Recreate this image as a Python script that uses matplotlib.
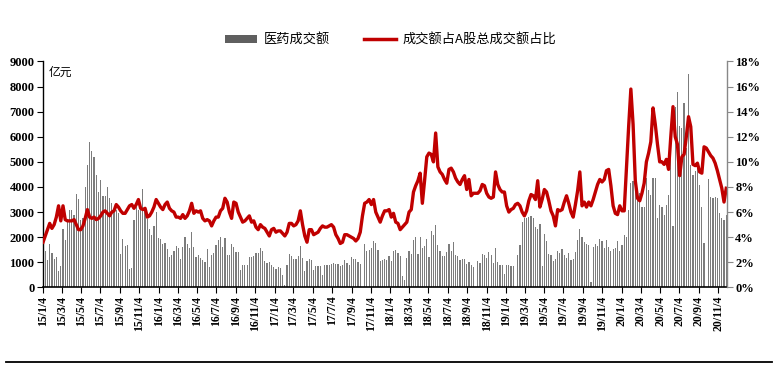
import numpy as np
import pandas as pd
import matplotlib
matplotlib.use('Agg')
import matplotlib.pyplot as plt
import matplotlib.dates as mdates
from matplotlib.ticker import PercentFormatter, FixedLocator, MultipleLocator
from matplotlib.lines import Line2D
from matplotlib.patches import Patch

nan = np.nan

# weekly observations starting 2015-01-04
weeks = pd.date_range('2015-01-04', periods=309, freq='7D')

# 医药成交额 (亿元)
amount_2015 = [1700, 1470, 1080, 1740, 1370, 1140, 1210, 640, 850, 2340,
               1870, 2710, 3100, 3100, 2890, 3730, 3530, 2670, 2770, 3990,
               4860, 5780, 5450, 5190, 4480, 3790, 4260, 3660, 3660, 3990,
               3560, 3370, 3000, 3100, 2960, 1340, 1940, 1650, 1670, 740,
               780, 2670, 3200, 3100, 3070, 3930, 3070, 2730, 2340, 2070,
               2440, 3000]
amount_2016 = [1960, 1910, 1710, 1780, 1510, 1210, 1300, 1470, 1650, 1570,
               1140, 1610, 2000, 1740, 1570, 2200, 1610, 1210, 1300, 1170,
               1080, 1010, 1510, 810, 1300, 1380, 1670, 1870, 2000, 1610,
               1980, 1310, 1310, 1740, 1610, 1430, 1410, 680, 910, 880,
               900, 1210, 1230, 1270, 1380, 1380, 1570, 1470, 1040, 980,
               1010, 880]
amount_2017 = [810, 740, 810, 770, 500, 80, 880, 1340, 1250, 1140,
               1120, 1270, 1630, 1170, 640, 1040, 1120, 1080, 680, 850,
               850, 850, 500, 910, 910, 910, 950, 980, 950, 950,
               860, 880, 1080, 980, 910, 1210, 1120, 1120, 1010, 950,
               nan, 1730, 1450, 1490, 1580, 1840, 1750, 1490, 1050, 1090,
               1130, 1090, 1260]
amount_2018 = [1050, 1460, 1490, 1390, 1260, 470, 290, 1160, 1450, 1350,
               1880, 2020, 1350, 2020, 1580, 1660, 1920, 1220, 2230, 2100,
               2480, 1670, 1470, 1270, 1270, 1430, 1740, 1470, 1810, 1300,
               1250, 1080, 1120, 1140, 940, 1010, 900, 810, nan, 1040,
               980, 1340, 1300, 1170, 1430, 1300, 980, 1570, 1010, 880,
               880, 540]
amount_2019 = [880, 900, 850, 850, nan, 1300, 1670, 2600, 2760, 2760,
               2800, 2840, 2760, 2400, 2340, 2540, 850, 2140, 1830, 1340,
               1300, 1040, 1120, 1470, 1380, 1540, 1300, 1170, 1380, 1080,
               1120, 1410, 1900, 2340, 2000, 1810, 1740, 1700, 210, 1610,
               1740, 1650, 1910, 1830, 1570, 1900, 1610, 1470, 1510, 1570,
               1830, 1470]
amount_2020 = [1700, 2100, 2000, 3100, 4150, 4220, 4290, 3620, 3780, 3220,
               3220, 4350, 3890, 3690, 4350, 4350, 2760, 3290, 3220, 2890,
               3290, 3690, 5410, 2430, 7200, 7800, 6410, 6340, 7340, 5550,
               8500, 4880, 4490, 4620, 4750, 4090, 3220, 1770, nan, 4300,
               3620, 3560, 3620, 3560, 2960, 2760, 2700, 2900]

# 成交额占A股总成交额占比 (%)
share_2015 = [3.6, 4.1, 4.6, 5.1, 4.7, 5.0, 5.6, 6.5, 5.3, 6.5,
              5.4, 5.3, 5.3, 5.3, 5.4, 5.0, 4.6, 4.6, 4.9, 5.5,
              6.2, 5.6, 5.5, 5.6, 5.4, 5.5, 5.7, 6.0, 6.1, 5.9,
              5.7, 6.0, 6.1, 6.6, 6.4, 6.1, 5.9, 5.9, 6.2, 6.5,
              6.6, 6.3, 6.6, 7.0, 6.3, 6.2, 6.3, 5.6, 5.7, 6.0,
              6.4, 7.0]
share_2016 = [6.7, 6.4, 6.2, 6.6, 6.8, 6.3, 6.1, 6.0, 5.6, 5.6,
              5.5, 5.8, 5.5, 5.7, 6.1, 6.7, 5.9, 6.1, 6.0, 6.1,
              5.5, 5.3, 5.4, 5.3, 4.9, 5.3, 5.6, 5.6, 6.1, 6.3,
              7.1, 6.8, 6.0, 5.5, 6.8, 6.7, 6.0, 5.6, 5.2, 5.3,
              5.5, 5.7, 5.2, 5.3, 4.8, 4.6, 5.0, 4.8, 4.7, 4.4,
              4.1, 4.6]
share_2017 = [4.7, 4.4, 4.5, 4.5, 4.3, 4.1, 4.4, 5.1, 5.1, 4.9,
              5.0, 5.3, 6.1, 5.0, 4.1, 3.6, 4.6, 4.6, 4.2, 4.3,
              4.4, 4.7, 4.9, 4.8, 4.8, 4.9, 5.0, 4.8, 4.2, 3.9,
              3.5, 3.6, 4.2, 4.2, 4.1, 4.0, 3.9, 3.7, 3.9, 4.4,
              5.7, 6.7, 6.8, 7.0, 6.6, 7.0, 6.0, 5.6, 5.2, 5.7,
              6.1, 6.1, 6.2]
share_2018 = [5.6, 5.9, 5.2, 5.1, 4.6, 4.8, 5.0, 5.2, 6.0, 6.2,
              7.6, 8.1, 8.5, 9.1, 6.7, 8.5, 10.4, 10.7, 10.6, 10.0,
              12.3, 9.6, 9.2, 9.0, 8.6, 8.3, 9.4, 9.5, 9.2, 8.7,
              8.4, 8.2, 8.6, 8.9, 7.8, 8.6, 7.3, 7.5, 7.5, 7.5,
              7.7, 8.2, 8.1, 7.5, 7.2, 7.1, 7.2, 9.2, 8.2, 7.8,
              7.6, 7.6]
share_2019 = [6.5, 6.0, 6.2, 6.3, 6.6, 6.7, 6.5, 6.0, 5.7, 6.1,
              6.9, 7.4, 7.3, 7.0, 8.5, 6.4, 7.0, 7.8, 7.6, 6.9,
              6.1, 5.7, 4.9, 6.2, 6.1, 6.2, 6.8, 7.3, 6.7, 6.0,
              5.6, 6.6, 7.7, 9.2, 6.5, 6.8, 6.4, 6.8, 6.5, 7.0,
              7.6, 8.2, 8.6, 8.4, 8.6, 9.3, 9.4, 8.1, 6.5, 5.9,
              5.8, 6.5]
share_2020 = [6.1, 6.1, 9.5, 12.8, 15.8, 13.0, 8.5, 7.1, 6.9, 7.5,
              8.3, 10.0, 10.7, 11.6, 14.3, 13.0, 11.4, 10.0, 10.0, 9.8,
              10.2, 9.4, 12.0, 14.4, 12.0, 11.4, 8.9, 10.4, 10.6, 12.0,
              13.6, 12.8, 9.8, 9.7, 9.9, 9.2, 9.1, 11.2, 11.1, 10.8,
              10.5, 10.3, 9.9, 9.3, 8.6, 7.9, 6.8, 7.9]

amount = np.array(amount_2015 + amount_2016 + amount_2017 + amount_2018
                  + amount_2019 + amount_2020, dtype=float)
share = np.array(share_2015 + share_2016 + share_2017 + share_2018
                 + share_2019 + share_2020, dtype=float) / 100.0

tick_dates = pd.date_range('2015-01-04', '2020-11-04', freq=pd.DateOffset(months=2))
tick_labels = [f"{d.year % 100}/{d.month}/{d.day}" for d in tick_dates]

bar_label = '医药成交额'
line_label = '成交额占A股总成交额占比'
unit_label = '亿元'

x = mdates.date2num(weeks.to_pydatetime())
xt = mdates.date2num(tick_dates.to_pydatetime())

serif = ['Liberation Serif', 'DejaVu Serif']
plt.rcParams['font.family'] = serif

fig = plt.figure(figsize=(7.81, 3.68), dpi=100)
ax = fig.add_axes([0.0547, 0.219, 0.876, 0.614])
ax2 = ax.twinx()

bar_color = '#7c7c7c'
line_color = '#C00000'

ax.bar(x, amount, width=3.8, color=bar_color, linewidth=0, align='center')
ax2.plot(x, share, color=line_color, lw=2.4, solid_joinstyle='round')

ax.set_xlim(x[0] - 1, x[-1] + 2)
ax.set_ylim(0, 9000)
ax2.set_ylim(0, 0.18)
ax.yaxis.set_major_locator(MultipleLocator(1000))
ax2.yaxis.set_major_locator(MultipleLocator(0.02))
ax2.yaxis.set_major_formatter(PercentFormatter(1.0, decimals=0))

ax.xaxis.set_major_locator(FixedLocator(xt))
ax.set_xticklabels(tick_labels, rotation=90, ha='center', va='top')

for a in (ax, ax2):
    a.spines['top'].set_visible(False)
ax.spines['right'].set_visible(False)
ax2.spines['left'].set_visible(False)
ax2.spines['bottom'].set_visible(False)
ax.spines['left'].set_color('black')
ax.spines['left'].set_linewidth(1.0)
ax.spines['bottom'].set_color('black')
ax.spines['bottom'].set_linewidth(1.2)
ax2.spines['right'].set_color('#888888')
ax2.spines['right'].set_linewidth(1.0)

ax.tick_params(axis='y', direction='out', length=4, width=0.8, labelsize=9, pad=2)
ax.tick_params(axis='x', direction='out', length=4, width=0.8, labelsize=8.5, pad=2)
ax2.tick_params(axis='y', direction='out', length=4, width=0.8, color='#888888',
                labelsize=9, pad=2)
for lab in ax.get_xticklabels() + ax.get_yticklabels() + ax2.get_yticklabels():
    lab.set_fontfamily(serif)
    lab.set_fontweight('bold')

cjk = ['Noto Sans CJK SC', 'DejaVu Sans']
ax.text(0.008, 0.953, unit_label, transform=ax.transAxes, ha='left', va='center',
        fontsize=8.5, family=cjk, fontweight='normal', fontstyle='italic')

handles = [Patch(facecolor='#5f5f5f', edgecolor='none'),
           Line2D([], [], color=line_color, lw=2.5)]
fig.legend(handles, [bar_label, line_label], loc='center', bbox_to_anchor=(0.5, 0.891),
           ncol=2, frameon=False,
           prop={'family': cjk, 'size': 9.5, 'weight': 'normal'},
           handlelength=2.4, handleheight=0.55, columnspacing=2.6, handletextpad=0.5)

fig.add_artist(Line2D([0.008, 0.988], [0.0163, 0.0163], transform=fig.transFigure,
                      color='black', lw=1.3))

fig.savefig('out.png', dpi=100)
